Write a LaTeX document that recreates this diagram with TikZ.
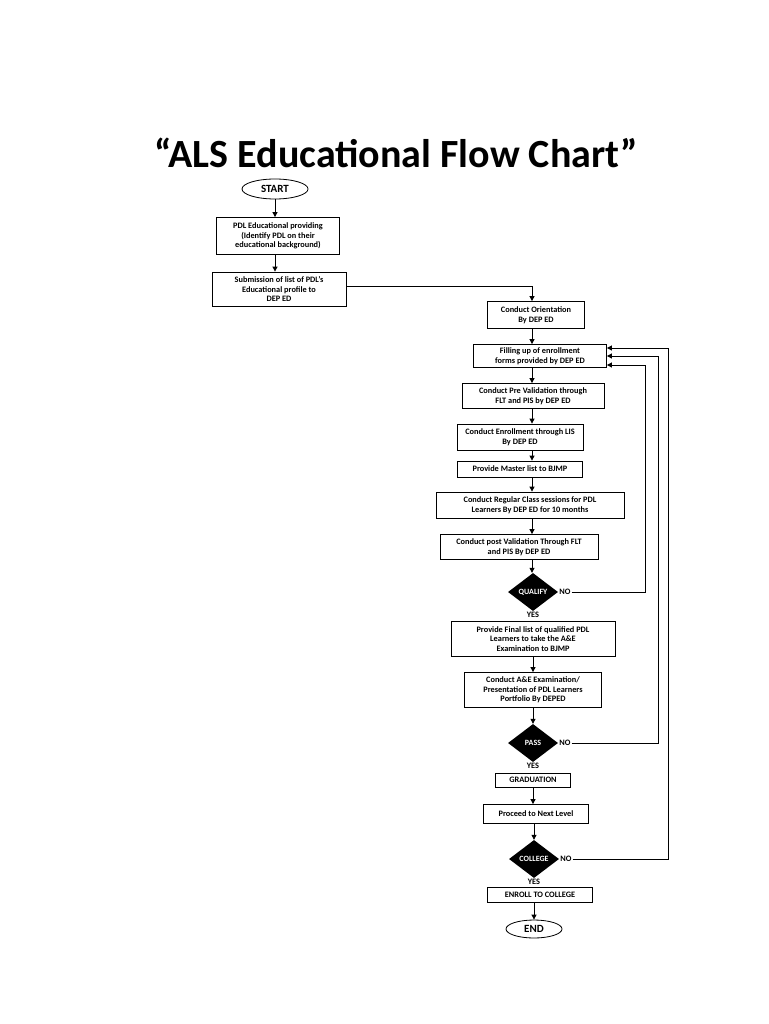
\documentclass[tikz,border=0pt]{standalone}
\usepackage{fontspec}
\setmainfont{Carlito}
\usetikzlibrary{shapes.geometric,arrows.meta}
\begin{document}
\begin{tikzpicture}[x=1pt,y=-1pt,
  box/.style={draw,thick,align=center,font=\bfseries\fontsize{8.3}{9.6}\selectfont,inner sep=1pt},
  term/.style={draw,thick,ellipse,font=\bfseries\fontsize{11}{12}\selectfont,inner sep=0pt},
  dec/.style={diamond,fill=black,text=white,font=\bfseries\fontsize{8}{9}\selectfont,inner sep=0pt,minimum width=50pt,minimum height=38pt},
  lab/.style={font=\bfseries\fontsize{8.3}{9}\selectfont,inner sep=1pt},
  arr/.style={-{Triangle[length=5pt,width=5pt]},thick},
  ln/.style={thick}]
\useasboundingbox (0,0) rectangle (768,1024);
\node[font=\bfseries\fontsize{40}{46}\selectfont] (title) at (396,153) {“ALS Educational Flow Chart”};
\node[term,minimum width=66pt,minimum height=20pt] (start) at (275,189) {START};
\node[box,minimum width=123pt,minimum height=37pt] (pdl) at (278,236) {PDL Educational providing\\(Identify PDL on their\\educational background)};
\node[box,minimum width=134pt,minimum height=34pt] (sub) at (279,289) {Submission of list of PDL’s\\Educational profile to\\DEP ED};
\node[box,minimum width=97pt,minimum height=27pt] (ori) at (536,315) {Conduct Orientation\\By DEP ED};
\node[box,minimum width=133pt,minimum height=23pt] (fill) at (540,356) {Filling up of enrollment\\forms provided by DEP ED};
\node[box,minimum width=142pt,minimum height=25pt] (pre) at (533,396) {Conduct Pre Validation through\\FLT and PIS by DEP ED};
\node[box,minimum width=126pt,minimum height=26pt] (lis) at (520,437) {Conduct Enrollment through LIS\\By DEP ED};
\node[box,minimum width=125pt,minimum height=16pt] (mas) at (520,469) {Provide Master list to BJMP};
\node[box,minimum width=188pt,minimum height=26pt] (reg) at (530,505) {Conduct Regular Class sessions for PDL\\Learners By DEP ED for 10 months};
\node[box,minimum width=158pt,minimum height=25pt] (post) at (519,547) {Conduct post Validation Through FLT\\and PIS By DEP ED};
\node[dec] (q) at (533,592) {QUALIFY};
\node[box,minimum width=164pt,minimum height=35pt] (fin) at (533,639) {Provide Final list of qualified PDL\\Learners to take the A\&E\\Examination to BJMP};
\node[box,minimum width=137pt,minimum height=35pt] (ae) at (533,690) {Conduct A\&E Examination/\\Presentation of PDL Learners\\Portfolio By DEPED};
\node[dec] (p) at (533,743) {PASS};
\node[box,minimum width=75pt,minimum height=14pt] (gr) at (533,780) {GRADUATION};
\node[box,minimum width=105pt,minimum height=19pt] (nx) at (536,814) {Proceed to Next Level};
\node[dec] (c) at (534,859) {COLLEGE};
\node[box,minimum width=105pt,minimum height=15pt] (en) at (540,895) {ENROLL TO COLLEGE};
\node[term,minimum width=56pt,minimum height=18pt] (end) at (534,929) {END};
\node[lab,anchor=west] (qn) at (q.east) {NO};
\node[lab,anchor=west] (pn) at (p.east) {NO};
\node[lab,anchor=west] (cn) at (c.east) {NO};
\node[lab,anchor=north] (qy) at (q.south) {YES};
\node[lab,anchor=north] (py) at (p.south) {YES};
\node[lab,anchor=north] (cy) at (c.south) {YES};
\coordinate (j) at (532,286);
\draw[arr] (start) -- (pdl.north-|start);
\draw[arr] (pdl.south-|start) -- (sub.north-|start);
\draw[ln] (sub.east|-j) -- (j);
\draw[arr] (j) -- (j|-ori.north);
\draw[arr] (ori.south-|j) -- (fill.north-|j);
\draw[arr] (fill.south-|j) -- (pre.north-|j);
\draw[arr] (pre.south-|j) -- (lis.north-|j);
\draw[arr] (lis.south-|j) -- (mas.north-|j);
\draw[arr] (mas.south-|j) -- (reg.north-|j);
\draw[arr] (reg.south-|j) -- (post.north-|j);
\draw[arr] (post.south-|j) -- (q.north-|j);
\draw[arr] (fin.south-|q) -- (ae.north-|q);
\draw[arr] (ae.south-|q) -- (p.north);
\draw[arr] (gr.south-|p) -- (nx.north-|p);
\draw[arr] (nx.south-|c) -- (c.north);
\draw[arr] (en.south-|c) -- (end.north);
\coordinate (qx) at (645,592); \coordinate (px) at (658,743); \coordinate (cx) at (668,859);
\coordinate (qt) at (645,365); \coordinate (pt) at (658,356); \coordinate (ct) at (668,348);
\draw[arr] (qn.east) -- (qx) -- (qt) -- (fill.east|-qt);
\draw[arr] (pn.east) -- (px) -- (pt) -- (fill.east|-pt);
\draw[arr] (cn.east) -- (cx) -- (ct) -- (fill.east|-ct);
\end{tikzpicture}
\end{document}
